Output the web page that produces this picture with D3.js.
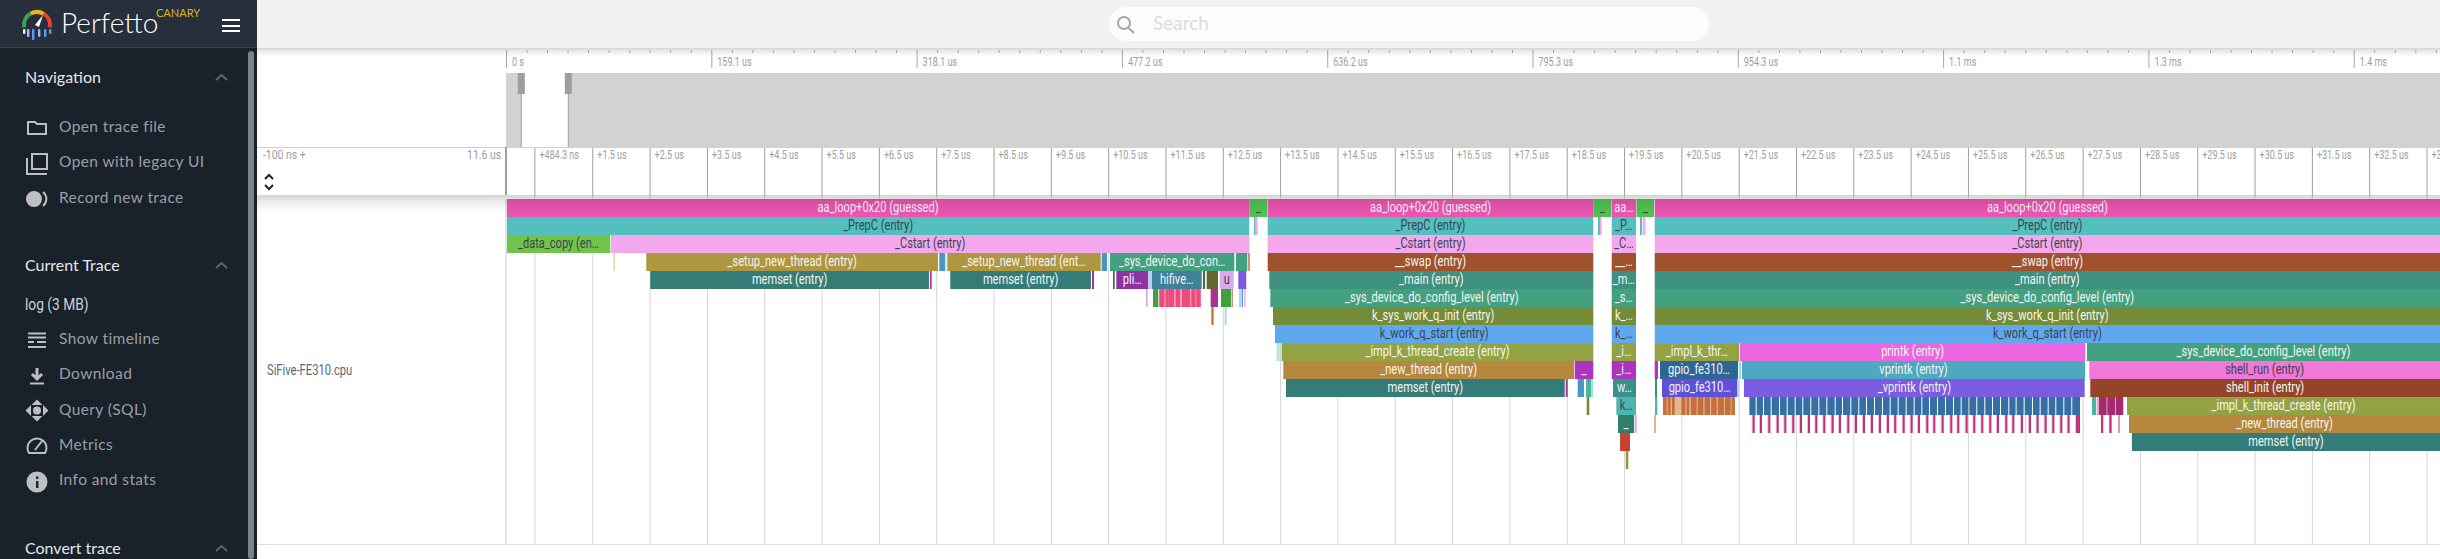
<!DOCTYPE html>
<html>
<head>
<meta charset="utf-8">
<style>
  html, body { margin: 0; padding: 0; background: #fff; overflow: hidden; }
  svg { display: block; }
</style>
<script src="https://cdn.jsdelivr.net/npm/d3@7"></script>
</head>
<body>
<div id="chart"></div>
<script>
// sidebar
const navItems = ["Open trace file", "Open with legacy UI", "Record new trace"];
const traceItems = ["Show timeline", "Download", "Query (SQL)", "Metrics", "Info and stats"];

// overview ruler, in us
const overviewTicks = [0, 159.05, 318.1, 477.15, 636.2, 795.25, 954.3, 1113.35, 1272.4, 1431.45];
const overviewLabels = ["0 s", "159.1 us", "318.1 us", "477.2 us", "636.2 us", "795.3 us", "954.3 us", "1.1 ms", "1.3 ms", "1.4 ms"];
const brushWindow = [11.85, 48.27];

// detail ruler, in us from the left edge of the window
const rulerTicks = [0.49, 1.5, 2.5, 3.5, 4.5, 5.5, 6.5, 7.5, 8.5, 9.5, 10.5, 11.5, 12.5, 13.5, 14.5, 15.5, 16.5,
  17.5, 18.5, 19.5, 20.5, 21.5, 22.5, 23.5, 24.5, 25.5, 26.5, 27.5, 28.5, 29.5, 30.5, 31.5, 32.5, 33.5];
const rulerLabels = ["+484.3 ns", "+1.5 us", "+2.5 us", "+3.5 us", "+4.5 us", "+5.5 us", "+6.5 us", "+7.5 us", "+8.5 us",
  "+9.5 us", "+10.5 us", "+11.5 us", "+12.5 us", "+13.5 us", "+14.5 us", "+15.5 us", "+16.5 us", "+17.5 us", "+18.5 us",
  "+19.5 us", "+20.5 us", "+21.5 us", "+22.5 us", "+23.5 us", "+24.5 us", "+25.5 us", "+26.5 us", "+27.5 us", "+28.5 us",
  "+29.5 us", "+30.5 us", "+31.5 us", "+32.5 us", "+33.5 us"];

// slices per stack depth: start, end, function, shown label
const depth0 = [
  [0.01, 12.962, "aa_loop", "aa_loop+0x20 (guessed)"], [12.962, 13.276, "idle", "_"],
  [13.283, 18.964, "aa_loop", "aa_loop+0x20 (guessed)"], [18.964, 19.278, "idle", "_"],
  [19.285, 19.709, "aa_loop", "aa…"], [19.717, 20.023, "idle", "_"],
  [20.035, 33.74, "aa_loop", "aa_loop+0x20 (guessed)"]
];
const depth1 = [
  [0.01, 12.962, "prepc", "_PrepC (entry)"], [13.044, 13.074, "prepc"], [13.074, 13.109, "cstart"],
  [13.283, 18.964, "prepc", "_PrepC (entry)"], [19.046, 19.08, "prepc"], [19.08, 19.11, "cstart"],
  [19.285, 19.709, "prepc", "_P…"], [19.779, 19.813, "prepc"], [19.825, 19.871, "cstart"],
  [20.035, 33.74, "prepc", "_PrepC (entry)"]
];
const depth2 = [
  [0.01, 1.814, "data_copy", "_data_copy (en…"], [1.827, 12.962, "cstart", "_Cstart (entry)"],
  [13.283, 18.964, "cstart", "_Cstart (entry)"], [19.285, 19.709, "cstart", "_C…"],
  [20.035, 33.74, "cstart", "_Cstart (entry)"]
];
const depth3 = [
  [1.867, 1.896, "pale_yellow"], [2.442, 7.532, "setup", "_setup_new_thread (entry)"],
  [7.554, 7.653, "blue"], [7.662, 7.68, "pale_blue"],
  [7.694, 10.37, "setup", "_setup_new_thread (ent…"], [10.387, 10.48, "blue"],
  [10.532, 12.701, "sys_device", "_sys_device_do_con…"], [12.73, 12.927, "sys_device"], [12.94, 12.975, "pale_brown"],
  [13.283, 18.964, "swap", "__swap (entry)"], [19.285, 19.709, "swap", "__…"], [20.035, 33.74, "swap", "__swap (entry)"]
];
const depth4 = [
  [2.512, 7.374, "memset", "memset (entry)"], [7.392, 7.421, "magenta"],
  [7.746, 10.2, "memset", "memset (entry)"], [10.218, 10.253, "magenta"],
  [10.584, 10.614, "dark_green"], [10.642, 11.2, "pli", "pli…"], [11.212, 11.247, "pale_blue"],
  [11.259, 12.132, "hifive", "hifive…"], [12.155, 12.19, "dark_green"], [12.219, 12.416, "olive"],
  [12.446, 12.69, "lilac", "u"], [12.77, 12.91, "violet"],
  [13.311, 18.964, "main", "_main (entry)"], [19.285, 19.709, "main", "_m…"], [20.035, 33.74, "main", "_main (entry)"]
];
const depth5 = [
  [11.16, 11.19, "lilac"], [11.282, 11.375, "green"], [11.393, 12.114, "pale_rose"],
  [11.393, 11.48, "rose"], [11.503, 11.55, "rose"], [11.55, 11.649, "rose"], [11.678, 11.753, "rose"],
  [11.788, 11.928, "rose"], [11.951, 12.021, "rose"], [12.038, 12.114, "rose"],
  [12.288, 12.416, "magenta"], [12.468, 12.649, "green"], [12.66, 12.678, "pale_brown"],
  [12.782, 12.817, "pale_blue"], [12.829, 12.852, "blue"], [12.875, 12.899, "lilac"],
  [13.329, 18.964, "sys_device", "_sys_device_do_config_level (entry)"], [19.285, 19.709, "sys_device", "_s…"],
  [20.035, 33.74, "sys_device", "_sys_device_do_config_level (entry)"]
];
const depth6 = [
  [12.3, 12.34, "orange"], [12.532, 12.567, "pale_teal"],
  [13.376, 18.964, "k_sys", "k_sys_work_q_init (entry)"], [19.285, 19.709, "k_sys", "k_…"],
  [20.035, 33.74, "k_sys", "k_sys_work_q_init (entry)"]
];
const depth7 = [
  [13.41, 18.964, "k_work", "k_work_q_start (entry)"], [19.285, 19.709, "k_work", "k_…"],
  [20.035, 33.74, "k_work", "k_work_q_start (entry)"]
];
const depth8 = [
  [13.44, 13.475, "pale_teal"], [13.486, 13.51, "pale_teal"],
  [13.527, 18.964, "impl", "_impl_k_thread_create (entry)"], [19.285, 19.709, "impl", "_i…"],
  [20.035, 21.505, "impl", "_impl_k_thr…"], [21.523, 27.547, "printk", "printk (entry)"],
  [27.576, 33.74, "sys_device", "_sys_device_do_config_level (entry)"]
];
const depth9 = [
  [13.555, 18.627, "new_thread", "_new_thread (entry)"], [18.639, 18.964, "purple", "_"],
  [19.285, 19.709, "purple", "_i…"], [20.035, 20.092, "purple"], [20.127, 21.488, "gpio", "gpio_fe310…"],
  [21.505, 21.54, "pale_blue"], [21.558, 27.542, "vprintk", "vprintk (entry)"],
  [27.617, 33.74, "shell_run", "shell_run (entry)"]
];
const depth10 = [
  [13.602, 18.465, "memset", "memset (entry)"], [18.482, 18.517, "magenta"], [18.692, 18.801, "blue"],
  [18.836, 18.929, "teal_green"], [18.929, 18.959, "pale_teal"], [19.307, 19.709, "w_teal", "w…"],
  [20.04, 20.075, "w_teal"], [20.162, 21.476, "gpio2", "gpio_fe310…"], [21.488, 21.505, "pale_blue"],
  [21.592, 27.536, "violet", "_vprintk (entry)"], [27.634, 33.74, "shell_init", "shell_init (entry)"]
];
const depth11 = [
  [18.849, 18.894, "k_sys"], [19.365, 19.709, "k_teal", "k…"], [20.04, 20.08, "k_teal"],
  [20.179, 21.435, "orange"], [27.665, 27.735, "teal_green"], [27.747, 27.77, "pale_rose"],
  [27.78, 27.92, "wine"], [27.93, 28.07, "wine"], [28.08, 28.21, "wine"],
  [28.275, 33.74, "impl", "_impl_k_thread_create (entry)"]
];
const depth12 = [
  [19.395, 19.674, "dark_teal", "_"], [19.686, 19.721, "lilac"], [20.028, 20.052, "pale_brown"],
  [27.82, 27.86, "crimson"], [27.965, 28.007, "crimson"], [28.122, 28.15, "pale_crimson"],
  [28.31, 33.74, "new_thread", "_new_thread (entry)"]
];
const depth13 = [[19.43, 19.604, "red"], [28.36, 33.74, "memset", "memset (entry)"]];
const depth14 = [[19.53, 19.575, "k_sys_light"]];

// pale gaps inside the orange run of depth 11
const orangeGaps = [[20.244, 20.26], [20.314, 20.335], [20.384, 20.5], [20.57, 20.59], [20.64, 20.665], [20.767, 20.785],
  [20.884, 20.905], [21.0, 21.02], [21.116, 21.135], [21.244, 21.26], [21.36, 21.375]];
// boundaries of the blue calls under _vprintk
const putcBounds = [21.686, 21.814, 21.942, 22.075, 22.221, 22.355, 22.494, 22.628, 22.767, 22.907, 23.047, 23.192, 23.32,
  23.465, 23.605, 23.739, 23.878, 24.018, 24.151, 24.291, 24.431, 24.57, 24.704, 24.837, 24.977, 25.117, 25.256, 25.39,
  25.524, 25.663, 25.803, 25.937, 26.076, 26.221, 26.349, 26.489, 26.634, 26.768, 26.908, 27.041, 27.181, 27.32, 27.472];
// starts of the thin crimson calls below them
const crimsonStarts = [21.744, 21.872, 22.017, 22.163, 22.296, 22.436, 22.57, 22.709, 22.837, 22.977, 23.122, 23.25, 23.395,
  23.529, 23.669, 23.808, 23.948, 24.087, 24.215, 24.361, 24.5, 24.628, 24.774, 24.896, 25.041, 25.192, 25.314, 25.46,
  25.594, 25.733, 25.873, 26.006, 26.152, 26.274, 26.425, 26.565, 26.698, 26.838, 26.972, 27.111, 27.239, 27.385, 27.42];

const palette = {
  aa_loop: "#e955b1", idle: "#4fc14f", prepc: "#53c0bf", cstart: "#f3a8ee", data_copy: "#72c34a",
  setup: "#ae973f", blue: "#4b95c6", pale_blue: "#a9d6ee", pale_yellow: "#e3df9f", pale_brown: "#c9957a",
  sys_device: "#43a17f", swap: "#a0522d", memset: "#347c78", magenta: "#a8348f", dark_green: "#3f6f42",
  pli: "#8c33a8", hifive: "#3e8199", olive: "#66672e", lilac: "#d8aaf0", violet: "#7b5ce0", main: "#3e9180",
  green: "#42a13f", rose: "#ef4a7c", pale_rose: "#f59ab8", orange: "#c4703c", pale_teal: "#a8dfcf",
  k_sys: "#748c37", k_sys_light: "#8f9c3d", k_work: "#5fa8ee", impl: "#93a343", printk: "#ec66e0",
  new_thread: "#b5883d", purple: "#ae34c0", gpio: "#2f6698", vprintk: "#4da8c1", shell_run: "#ef78d8",
  teal_green: "#45b79a", w_teal: "#35918a", gpio2: "#6050d8", shell_init: "#944528", k_teal: "#4db5ad",
  wine: "#a82a6e", crimson: "#c0327a", pale_crimson: "#d97aa5", dark_teal: "#2f7f6a", red: "#c84030"
};
const darkText = new Set(["prepc", "cstart", "data_copy", "k_work", "lilac", "shell_run", "idle", "k_teal"]);

const width = 2440, height = 559;
const sideW = 257, trackX = 506;
const rowH = 18, flameTop = 199;

const svg = d3.select("#chart").append("svg")
  .attr("width", width)
  .attr("height", height)
  .attr("viewBox", [0, 0, width, height]);

const defs = svg.append("defs");
const shadow = defs.append("linearGradient").attr("id", "shadow").attr("x1", 0).attr("x2", 0).attr("y1", 0).attr("y2", 1);
shadow.append("stop").attr("offset", 0).attr("stop-color", "#000").attr("stop-opacity", 0.17);
shadow.append("stop").attr("offset", 0.35).attr("stop-color", "#000").attr("stop-opacity", 0.08);
shadow.append("stop").attr("offset", 1).attr("stop-color", "#000").attr("stop-opacity", 0);

const x = d3.scaleLinear().domain([0, 33.74]).range([506.3, 506.3 + 33.74 * 57.32]);
const xOverview = d3.scaleLinear().domain([0, 1498.3]).range([trackX, width]);
const depths = [depth0, depth1, depth2, depth3, depth4, depth5, depth6, depth7, depth8, depth9, depth10, depth11, depth12, depth13, depth14];
const y = d3.scaleBand().domain(d3.range(depths.length)).range([flameTop, flameTop + rowH * depths.length]);

// Roboto squeezed, there is no Roboto Condensed here
function narrowText(parent, tx, ty, str, size, fill, anchor, squeeze) {
  return parent.append("text")
    .attr("transform", `translate(${tx},${ty}) scale(${squeeze || 0.79},1)`)
    .attr("text-anchor", anchor || "start")
    .attr("font-family", "Roboto")
    .attr("font-size", size)
    .attr("fill", fill)
    .text(str);
}

// grid behind the flame chart
const grid = svg.append("g").attr("transform", `translate(0,${flameTop - 4})`)
  .call(d3.axisBottom(x).tickValues(rulerTicks).tickSize(349).tickFormat(""));
grid.select(".domain").remove();
grid.selectAll("line").attr("stroke", "#d6d6d6");

// flame chart
const slices = depths.flatMap((row, i) => row.map(d => ({ depth: i, start: d[0], end: d[1], fn: d[2], label: d[3] })));

const flame = svg.append("g");
flame.selectAll("rect")
  .data(slices)
  .join("rect")
  .attr("x", d => x(d.start))
  .attr("y", d => y(d.depth))
  .attr("width", d => Math.max(1, x(d.end) - x(d.start)))
  .attr("height", y.bandwidth())
  .attr("fill", d => palette[d.fn]);

flame.append("g").selectAll("rect")
  .data(orangeGaps)
  .join("rect")
  .attr("x", d => x(d[0]))
  .attr("y", y(11))
  .attr("width", d => x(d[1]) - x(d[0]))
  .attr("height", y.bandwidth())
  .attr("fill", "#e6b797");

flame.append("g").selectAll("rect")
  .data(putcBounds.slice(0, -1))
  .join("rect")
  .attr("x", d => x(d))
  .attr("y", y(11))
  .attr("width", (d, i) => x(putcBounds[i + 1]) - x(d) - 1)
  .attr("height", y.bandwidth())
  .attr("fill", "#3470a6");

flame.append("g").selectAll("rect")
  .data(crimsonStarts)
  .join("rect")
  .attr("x", d => x(d) - 1)
  .attr("y", y(12))
  .attr("width", 3)
  .attr("height", y.bandwidth())
  .attr("fill", "#edc3d8");

flame.append("g").selectAll("rect")
  .data(crimsonStarts)
  .join("rect")
  .attr("x", d => x(d))
  .attr("y", y(12))
  .attr("width", 2)
  .attr("height", y.bandwidth())
  .attr("fill", palette.crimson);

slices.filter(d => d.label).forEach(d => {
  narrowText(flame, (x(d.start) + Math.min(x(d.end), width)) / 2, y(d.depth) + 12.8, d.label, 14,
    darkText.has(d.fn) ? "#3c4450" : "#f4f4f4", "middle");
});

// track shell
svg.append("line").attr("x1", trackX).attr("x2", trackX).attr("y1", flameTop).attr("y2", 544)
  .attr("stroke", "#c7d1dd");
svg.append("line").attr("x1", sideW).attr("x2", width).attr("y1", 544.5).attr("y2", 544.5)
  .attr("stroke", "#d8dce1");
narrowText(svg, 267, 375, "SiFive-FE310.cpu", 14, "#5c6878", "start", 0.8);

// panel under the search bar
svg.append("rect").attr("x", sideW).attr("y", 48).attr("width", width - sideW).attr("height", 147).attr("fill", "#fff");

// overview ruler
svg.append("rect").attr("x", trackX).attr("y", 73).attr("width", width - trackX).attr("height", 74).attr("fill", "#d2d2d2");
svg.append("rect")
  .attr("x", xOverview(brushWindow[0]))
  .attr("y", 73)
  .attr("width", xOverview(brushWindow[1]) - xOverview(brushWindow[0]))
  .attr("height", 74)
  .attr("fill", "#fff");

const overviewAxis = svg.append("g").attr("transform", "translate(0,50)")
  .call(d3.axisBottom(xOverview).tickValues(overviewTicks).tickSize(18).tickFormat(""));
overviewAxis.select(".domain").remove();
overviewAxis.selectAll("line").attr("stroke", "#a9a9a9");

const minorAxis = svg.append("g").attr("transform", "translate(0,50)")
  .call(d3.axisBottom(xOverview)
    .tickValues(d3.range(0, 1498, 15.905).filter((d, i) => i % 10 !== 0))
    .tickSize(3).tickFormat(""));
minorAxis.select(".domain").remove();
minorAxis.selectAll("line").attr("stroke", "#b5b5b5");

overviewTicks.forEach((t, i) => {
  narrowText(svg, xOverview(t) + 6, 66, overviewLabels[i], 12, "#9e9e9e", "start", 0.75);
});

brushWindow.forEach(t => {
  svg.append("line")
    .attr("x1", xOverview(t)).attr("x2", xOverview(t))
    .attr("y1", 73).attr("y2", 147)
    .attr("stroke", "#9e9e9e");
  svg.append("rect")
    .attr("x", xOverview(t) - 3.5).attr("y", 73)
    .attr("width", 7).attr("height", 21)
    .attr("fill", "#9e9e9e");
});

// detail ruler
svg.append("line").attr("x1", sideW).attr("x2", width).attr("y1", 147.5).attr("y2", 147.5).attr("stroke", "#d2d2d2");
const rulerAxis = svg.append("g").attr("transform", "translate(0,148)")
  .call(d3.axisBottom(x).tickValues(rulerTicks).tickSize(47).tickFormat(""));
rulerAxis.select(".domain").remove();
rulerAxis.selectAll("line").attr("stroke", "#9e9e9e");

rulerTicks.forEach((t, i) => {
  narrowText(svg, x(t) + 5, 159, rulerLabels[i], 12, "#a0a0a0", "start", 0.75);
});

narrowText(svg, 263, 159, "-100 ns +", 13, "#9e9e9e", "start", 0.8);
narrowText(svg, 501, 159, "11.6 us", 13, "#9e9e9e", "end", 0.8);
svg.append("rect").attr("x", 505).attr("y", 147).attr("width", 2).attr("height", 48).attr("fill", "#9e9e9e");

const chevrons = svg.append("g").attr("fill", "none").attr("stroke", "#222").attr("stroke-width", 2);
chevrons.append("path").attr("d", "M265 179 L269 175 L273 179");
chevrons.append("path").attr("d", "M265 185 L269 189 L273 185");

// shadows of the fixed panels
svg.append("rect").attr("x", sideW).attr("y", 195).attr("width", width - sideW).attr("height", 18).attr("fill", "url(#shadow)");
svg.append("rect").attr("x", sideW).attr("y", 48).attr("width", width - sideW).attr("height", 9).attr("fill", "url(#shadow)");

// search bar
svg.append("rect").attr("x", sideW).attr("y", 0).attr("width", width - sideW).attr("height", 48).attr("fill", "#f1f1f1");
svg.append("rect").attr("x", 1109).attr("y", 7).attr("width", 600).attr("height", 34).attr("rx", 17).attr("fill", "#fcfcfc");
const glass = svg.append("g").attr("fill", "none").attr("stroke", "#a8a8a8").attr("stroke-width", 2);
glass.append("circle").attr("cx", 1124).attr("cy", 23).attr("r", 6);
glass.append("line").attr("x1", 1128).attr("y1", 27.5).attr("x2", 1134).attr("y2", 33);
svg.append("text").attr("x", 1153).attr("y", 30).attr("font-family", "Lato").attr("font-size", 19)
  .attr("fill", "#dcdcdc").text("Search");

// sidebar
const side = svg.append("g");
side.append("rect").attr("width", sideW).attr("height", height).attr("fill", "#19212b");
side.append("rect").attr("width", sideW).attr("height", 47).attr("fill", "#272f3c");
side.append("rect").attr("y", 47).attr("width", sideW).attr("height", 1).attr("fill", "#3d4450");
side.append("rect").attr("x", 248).attr("y", 51).attr("width", 6).attr("height", height - 51).attr("rx", 3).attr("fill", "#7d818a");

// logo
const gauge = d3.arc().innerRadius(11).outerRadius(15);
[["#2fa84f", -1.75, -0.5], ["#f2b01e", -0.5, 0.55], ["#e8432e", 0.55, 1.75]].forEach(s => {
  side.append("path")
    .attr("transform", "translate(37,25)")
    .attr("d", gauge({ startAngle: s[1], endAngle: s[2] }))
    .attr("fill", s[0]);
});
side.append("path").attr("d", "M35 25 L43 15 L39 27 Z").attr("fill", "#fff");
[[24, 34, "#e8f0fb"], [28, 37, "#9cc2f4"], [33, 40, "#5b9bf0"], [39, 37, "#8ab7f2"], [45, 37, "#5b9bf0"], [50, 34, "#5b9bf0"]].forEach(b => {
  side.append("rect").attr("x", b[0] - 1).attr("y", 29).attr("width", 2.4).attr("height", b[1] - 29).attr("rx", 1).attr("fill", b[2]);
});
side.append("text").attr("x", 61).attr("y", 33).attr("font-family", "Lato").attr("font-weight", 300).attr("font-size", 28)
  .attr("fill", "#fff").text("Perfetto");
side.append("text").attr("x", 156).attr("y", 16.5).attr("font-family", "Lato").attr("font-size", 11)
  .attr("fill", "#d7b915").text("CANARY");
[20, 26, 31].forEach(l => {
  side.append("rect").attr("x", 222).attr("y", l - 1).attr("width", 18).attr("height", 2).attr("fill", "#fff");
});

function sectionTitle(label, baseline) {
  side.append("text").attr("x", 25).attr("y", baseline).attr("font-family", "Lato").attr("font-size", 16)
    .attr("fill", "#e6e8ea").text(label);
  side.append("path")
    .attr("d", `M216 ${baseline - 3} L221.5 ${baseline - 8} L227 ${baseline - 3}`)
    .attr("fill", "none").attr("stroke", "#5e646d").attr("stroke-width", 2);
}
function menuItem(label, baseline) {
  side.append("text").attr("x", 59).attr("y", baseline).attr("font-family", "Lato").attr("font-size", 15.5)
    .attr("letter-spacing", 0.4).attr("fill", "#9b9fa4").text(label);
}

sectionTitle("Navigation", 83);
navItems.forEach((label, i) => menuItem(label, [132, 167, 203][i]));
sectionTitle("Current Trace", 271);
narrowText(side, 25, 310, "log (3 MB)", 16, "#cfd2d5", "start", 0.86);
traceItems.forEach((label, i) => menuItem(label, [344, 379, 415, 450, 485][i]));
sectionTitle("Convert trace", 554);

// menu icons
const icons = side.append("g").attr("fill", "none").attr("stroke", "#bdbfc2").attr("stroke-width", 2);
icons.append("path").attr("d", "M28 134 V122 H35 L37 124 H46 V134 Z");
icons.append("rect").attr("x", 32).attr("y", 154).attr("width", 15).attr("height", 15);
icons.append("path").attr("d", "M27 158 V174 H47");
icons.append("circle").attr("cx", 34).attr("cy", 199).attr("r", 7).attr("fill", "#bdbfc2");
icons.append("path").attr("d", "M43 192 A9 9 0 0 1 43 206");
icons.append("path").attr("d", "M28 333.5 H46 M28 337.5 H46 M28 342 H34 M37 342 H46 M28 347 H46");
icons.append("path").attr("d", "M37 368 V378 M32 374 L37 379 L42 374").attr("stroke-width", 3);
icons.append("path").attr("d", "M30 383.5 H44");
icons.append("circle").attr("cx", 37).attr("cy", 410.5).attr("r", 3).attr("fill", "#bdbfc2");
icons.append("path").attr("d", "M34 404 L37 401 L40 404 Z M34 417 L37 420 L40 417 Z M30 407.5 L27 410.5 L30 413.5 Z M44 407.5 L47 410.5 L44 413.5 Z").attr("fill", "#bdbfc2");
icons.append("path").attr("d", "M29 453 A9.5 9.5 0 1 1 45 453 Z");
icons.append("path").attr("d", "M35 450 L42 441");
icons.append("circle").attr("cx", 37).attr("cy", 482).attr("r", 9.5).attr("fill", "#bdbfc2");
side.append("rect").attr("x", 36).attr("y", 481).attr("width", 2.4).attr("height", 7).attr("fill", "#19212b");
side.append("rect").attr("x", 36).attr("y", 476.5).attr("width", 2.4).attr("height", 2.4).attr("fill", "#19212b");
</script>
</body>
</html>
